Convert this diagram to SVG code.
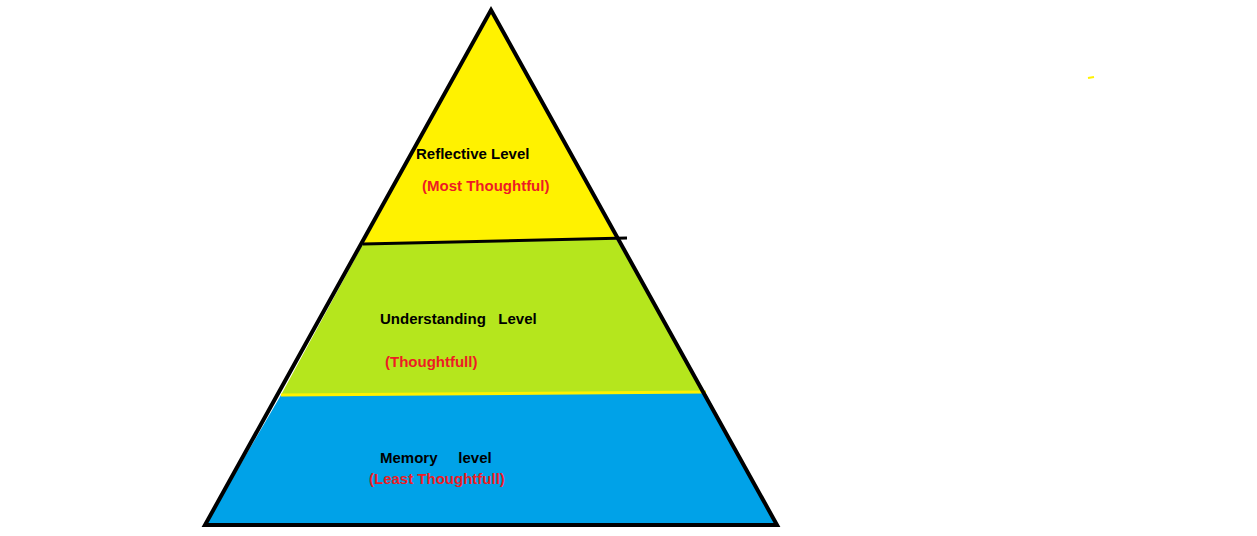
<svg xmlns="http://www.w3.org/2000/svg" width="1257" height="536" viewBox="0 0 1257 536">
<style>
.t{font-family:"Liberation Sans",Arial,sans-serif;font-size:15px;font-weight:bold;fill:#000}
.r{fill:#ED1C24}
</style>
<rect width="1257" height="536" fill="#fff"/>
<g id="memory"><polygon points="281,395 705,392 777,525 205,525" fill="#00A2E8"/></g>
<g id="understanding"><polygon points="363,244 616,239 705,392 281,395" fill="#B5E61D"/></g>
<g id="reflective"><polygon points="491,10 616,239 363,244" fill="#FFF200"/></g>
<g id="connectors">
<line x1="363" y1="244" x2="627" y2="238" stroke="#000" stroke-width="3"/>
<line x1="281" y1="395" x2="706" y2="392" stroke="#FFF200" stroke-width="3"/>
<polygon points="491,10 777,525 205,525" fill="none" stroke="#000" stroke-width="4" stroke-linejoin="miter"/>
<line x1="1088" y1="78" x2="1094" y2="77" stroke="#FFF200" stroke-width="2"/>
</g>
<text class="t" x="416" y="159">Reflective Level</text>
<text class="t r" x="422" y="191">(Most Thoughtful)</text>
<text class="t" x="380" y="324" xml:space="preserve">Understanding   Level</text>
<text class="t r" x="385" y="367">(Thoughtfull)</text>
<text class="t" x="380" y="463" xml:space="preserve">Memory     level</text>
<text class="t r" x="369" y="484">(Least Thoughtfull)</text>
</svg>
